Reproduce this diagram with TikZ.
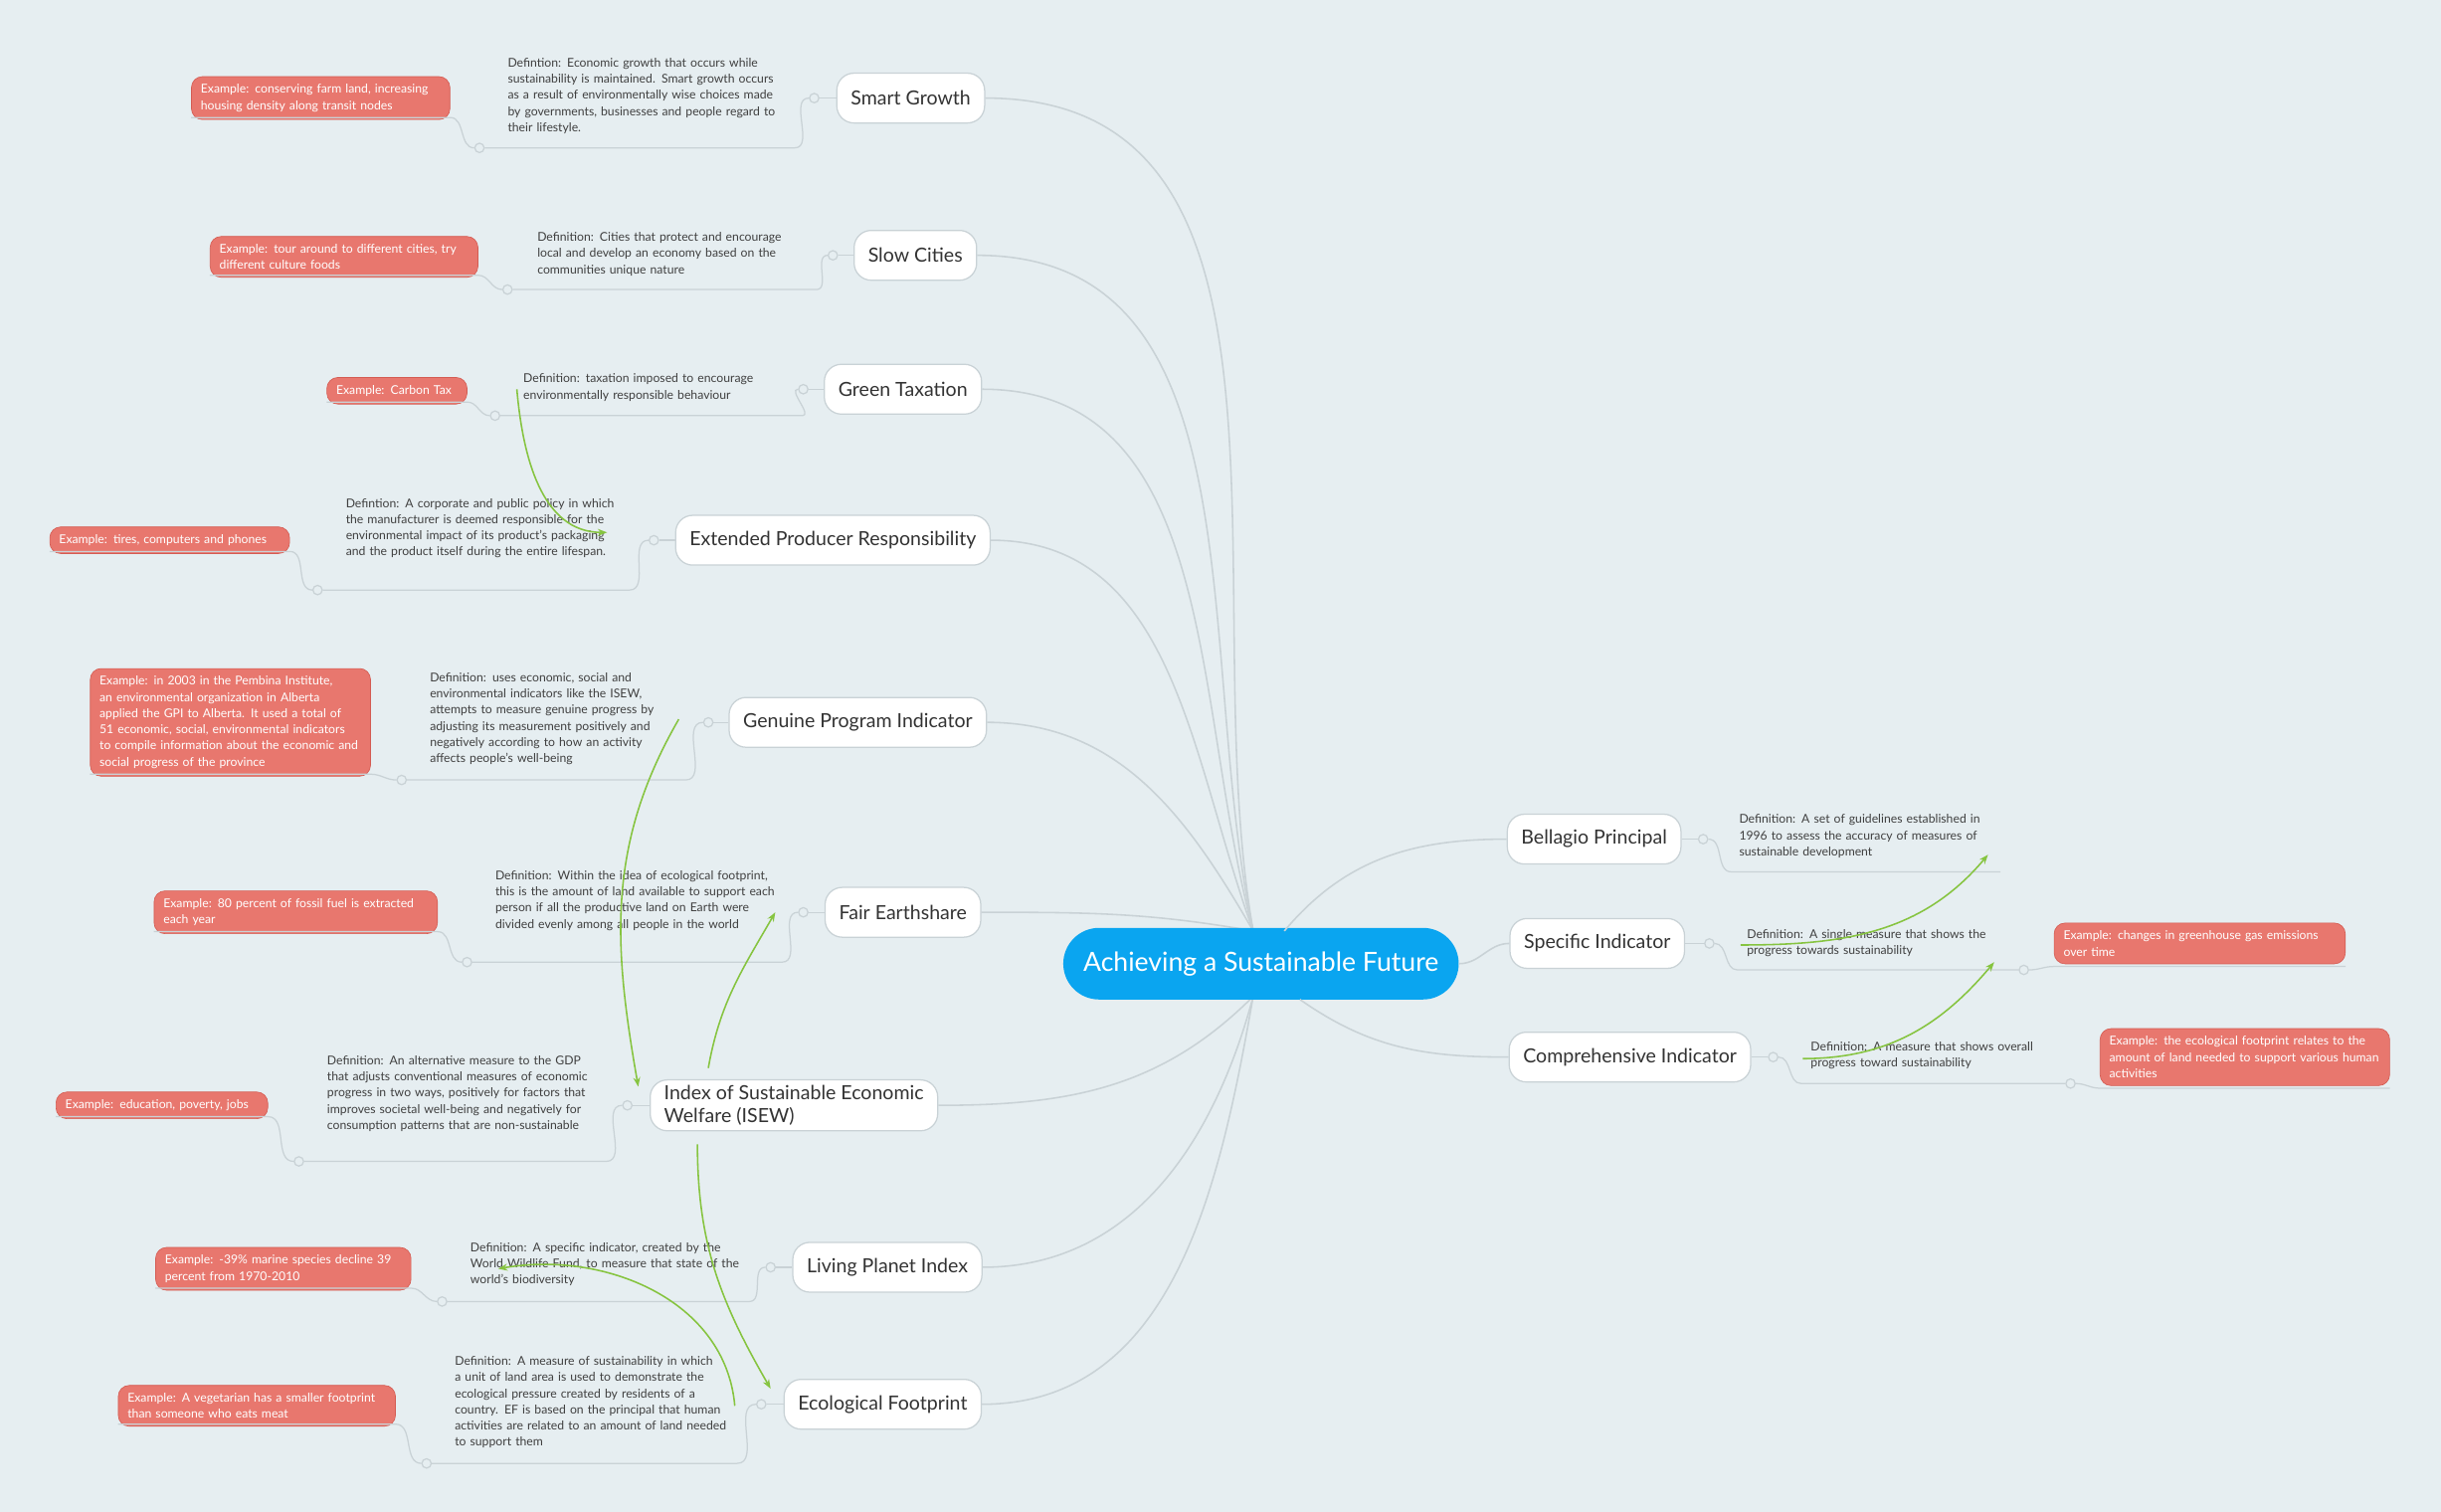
\documentclass[tikz,border=0pt]{standalone}
\usepackage{fontspec}
\setmainfont{Lato}
\usetikzlibrary{calc,arrows.meta}
\definecolor{bg}{HTML}{E6EEF1}
\definecolor{exf}{HTML}{E8776E}
\definecolor{exd}{HTML}{D45B52}
\definecolor{ln}{HTML}{C9D2D6}
\definecolor{cen}{HTML}{0AA5F0}
\definecolor{grn}{HTML}{86C440}
\newcommand\nohy{\hyphenpenalty=10000\exhyphenpenalty=10000\rightskip=0pt plus 1fil}
\tikzset{
 topic/.style={draw=ln,line width=0.8pt,fill=white,rounded corners=11pt,font=\fontsize{12.5}{15}\selectfont,text=black!80,inner xsep=9pt,minimum height=32pt,align=left},
 dot/.style={circle,draw=ln,fill=bg,line width=0.8pt,inner sep=0pt,minimum size=6pt},
 def/.style={font=\fontsize{7.8}{10.4}\selectfont\nohy,text=black!75,inner sep=0pt,align=left},
 ex/.style={draw=exd,fill=exf,rounded corners=7pt,text=white,font=\fontsize{7.8}{10.4}\selectfont\nohy,inner xsep=6pt,inner ysep=5pt,align=left},
 lnk/.style={draw=ln,line width=0.8pt},
 mainl/.style={draw=ln,line width=1pt},
 xlink/.style={draw=grn,line width=1pt,-{Stealth[length=6pt]}}
}
\newcommand\LT[9]{%
 \node[topic] (#1) at (#2,#3) {#4};
 \node[dot] (#1a) at (#5,#3) {};
 \draw[lnk] (#1) -- (#1a);
 \node[def,text width=#8pt,anchor=north west] (#1d) at (#6,#7) {#9};}
\newcommand\EX[7]{%
 \node[dot] (#1b) at (#3,#2) {};
 \draw[lnk] (#1a) to[out=180,in=0] ($(#1d.east |- #1b)+(4,0)$) -- (#1b);
 \node[ex,text width=#6pt] (#1e) at (#4,#5) {#7};
 \draw[lnk] (#1b) to[out=180,in=0] ($(#1e.south east)+(0,-1.5)$) -- ($(#1e.south west)+(0,-1.5)$);}
\begin{document}
\begin{tikzpicture}[x=1pt,y=-1pt]
\fill[bg] (0,0) rectangle (1568,971);
\useasboundingbox (0,0) rectangle (1568,971);
\coordinate (cu) at (805,598);
\coordinate (cd) at (805,640);
% left topics
\LT{sg}{585}{63}{Smart Growth}{523}{326}{37}{180}{Defintion: Economic growth that occurs while sustainability is maintained. Smart growth occurs as a result of environmentally wise choices made by governments, businesses and people regard to their lifestyle.}
\EX{sg}{95}{308}{206}{63}{154}{Example: conserving farm land, increasing housing density along transit nodes}
\LT{sc}{588}{164}{Slow Cities}{535}{345}{149}{175}{Definition: Cities that protect and encourage local and develop an economy based on the communities unique nature}
\EX{sc}{186}{326}{221}{165}{160}{Example: tour around to different cities, try different culture foods}
\LT{gt}{580}{250}{Green Taxation}{516}{336}{240}{175}{Definition: taxation imposed to encourage environmentally responsible behaviour}
\EX{gt}{267}{318}{255}{251}{78}{Example: Carbon Tax}
\LT{ep}{535}{347}{Extended Producer Responsibility}{420}{222}{320}{178}{Defintion: A corporate and public policy in which the manufacturer is deemed responsible for the environmental impact of its product's packaging and the product itself during the entire lifespan.}
\EX{ep}{379}{204}{109}{347}{142}{Example: tires, computers and phones}
\LT{gp}{551}{464}{Genuine Program Indicator}{455}{276}{432}{160}{Definition: uses economic, social and environmental indicators like the ISEW, attempts to measure genuine progress by adjusting its measurement positively and negatively according to how an activity affects people's well-being}
\EX{gp}{501}{258}{148}{464}{168}{Example: in 2003 in the Pembina Institute, an environmental organization in Alberta applied the GPI to Alberta. It used a total of 51 economic, social, environmental indicators to compile information about the economic and social progress of the province}
\LT{fe}{580}{586}{Fair Earthshare}{516}{318}{559}{180}{Definition: Within the idea of ecological footprint, this is the amount of land available to support each person if all the productive land on Earth were divided evenly among all people in the world}
\EX{fe}{618}{300}{190}{586}{170}{Example: 80 percent of fossil fuel is extracted each year}
\LT{is}{510}{710}{Index of Sustainable Economic\\Welfare (ISEW)}{403}{210}{678}{175}{Definition: An alternative measure to the GDP that adjusts conventional measures of economic progress in two ways, positively for factors that improves societal well-being and negatively for consumption patterns that are non-sustainable}
\EX{is}{746}{192}{104}{710}{124}{Example: education, poverty, jobs}
\LT{lp}{570}{814}{Living Planet Index}{495}{302}{798}{175}{Definition: A specific indicator, created by the World Wildlife Fund, to measure that state of the world's biodiversity}
\EX{lp}{836}{284}{182}{815}{152}{Example: -39\% marine species decline 39 percent from 1970-2010}
\LT{ef}{567}{902}{Ecological Footprint}{489}{292}{871}{177}{Definition: A measure of sustainability in which a unit of land area is used to demonstrate the ecological pressure created by residents of a country. EF is based on the principal that human activities are related to an amount of land needed to support them}
\EX{ef}{940}{274}{165}{903}{166}{Example: A vegetarian has a smaller footprint than someone who eats meat}
% main connectors
\draw[mainl] (sg.east) to[out=0,in=100] (cu);
\draw[mainl] (sc.east) to[out=0,in=102] (cu);
\draw[mainl] (gt.east) to[out=0,in=105] (cu);
\draw[mainl] (ep.east) to[out=0,in=110] (cu);
\draw[mainl] (gp.east) to[out=0,in=120] (cu);
\draw[mainl] (fe.east) to[out=0,in=170] (cu);
\draw[mainl] (is.east) to[out=0,in=-135] (cd);
\draw[mainl] (lp.east) to[out=0,in=-105] (cd);
\draw[mainl] (ef.east) to[out=0,in=-100] (cd);
% central
\node[fill=cen,rounded corners=23pt,minimum height=46pt,minimum width=254pt,text=white,font=\fontsize{17}{20}\selectfont] (c) at (810,619) {Achieving a Sustainable Future};
% right topics
\node[topic] (bp) at (1024,539) {Bellagio Principal};
\node[topic] (si) at (1026,606) {Specific Indicator};
\node[topic] (ci) at (1047,679) {Comprehensive Indicator};
\draw[mainl] (825,598) to[out=50,in=180] (bp.west);
\draw[mainl] (c.east) to[out=0,in=180] (si.west);
\draw[mainl] (835,642) to[out=-35,in=180] (ci.west);
\node[dot] (bpa) at (1094,539) {};
\node[dot] (sia) at (1098,606) {};
\node[dot] (cia) at (1139,679) {};
\draw[lnk] (bp) -- (bpa); \draw[lnk] (si) -- (sia); \draw[lnk] (ci) -- (cia);
\node[def,text width=170pt,anchor=north west] (bpd) at (1117,523) {Definition: A set of guidelines established in 1996 to assess the accuracy of measures of sustainable development};
\node[def,text width=170pt,anchor=north west] (sid) at (1122,597) {Definition: A single measure that shows the progress towards sustainability};
\node[def,text width=160pt,anchor=north west] (cid) at (1163,669) {Definition: A measure that shows overall progress toward sustainability};
\node[dot] (sib) at (1300,623) {};
\node[dot] (cib) at (1330,696) {};
\draw[lnk] (bpa) to[out=0,in=180] (1112,560) -- (1285,560);
\draw[lnk] (sia) to[out=0,in=180] (1116,623) -- (sib);
\draw[lnk] (cia) to[out=0,in=180] (1157,696) -- (cib);
\node[ex,text width=175pt] (sie) at (1413,606) {Example: changes in greenhouse gas emissions over time};
\node[ex,text width=174pt] (cie) at (1442,679) {Example: the ecological footprint relates to the amount of land needed to support various human activities};
\draw[lnk] (sib) to[out=0,in=180] ($(sie.south west)+(0,1.5)$) -- ($(sie.south east)+(0,1.5)$);
\draw[lnk] (cib) to[out=0,in=180] ($(cie.south west)+(0,1.5)$) -- ($(cie.south east)+(0,1.5)$);
% green cross links
\draw[xlink] (332,250) to[out=-85,in=180] (390,342);
\draw[xlink] (436,462) to[out=-120,in=100] (410,698);
\draw[xlink] (455,686) to[out=80,in=-120] (498,586);
\draw[xlink] (448,735) to[out=-90,in=120] (495,892);
\draw[xlink] (472,903) to[out=95,in=10] (320,815);
\draw[xlink] (1118,607) to[out=0,in=-130] (1277,549);
\draw[xlink] (1158,680) to[out=0,in=-130] (1281,618);
\end{tikzpicture}
\end{document}
